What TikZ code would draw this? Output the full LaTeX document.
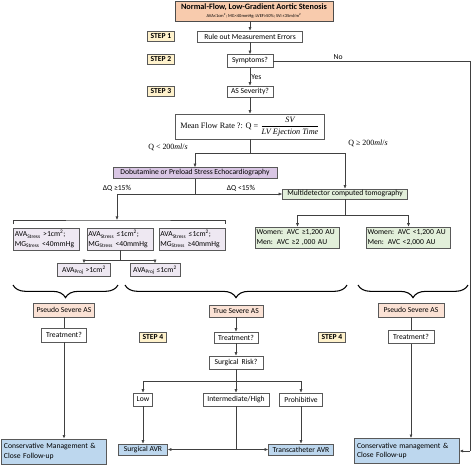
\documentclass[tikz,border=0pt]{standalone}
\usepackage{amsmath}
\usepackage{fontspec}
\usepackage{tikz}
\usetikzlibrary{arrows.meta,positioning,decorations.pathreplacing}
\newfontfamily\calibri{Carlito}
\newfontfamily\libserif{Liberation Serif}
\definecolor{peach}{HTML}{F8CBAD}
\definecolor{lightpeach}{HTML}{FBE2D5}
\definecolor{stepyellow}{HTML}{FFF2CC}
\definecolor{lilac}{HTML}{D9C6E4}
\definecolor{palelilac}{HTML}{EEE8F2}
\definecolor{mint}{HTML}{E2EFDA}
\definecolor{skyblue}{HTML}{BDD7EE}
\begin{document}
\begin{tikzpicture}[x=0.03cm, y=-0.03cm,
  line/.style={draw=black!75, line width=0.5pt},
  arrow/.style={line, -{Latex[length=3pt,width=2.6pt]}},
  box/.style={draw=black!65, fill=white, line width=0.5pt, inner sep=1pt, align=center, font=\calibri\fontsize{6.5}{8}\selectfont},
  stepbox/.style={box, fill=stepyellow, font=\calibri\bfseries\fontsize{6.5}{8}\selectfont, minimum width=0.81cm, minimum height=0.3cm},
  avabox/.style={box, fill=palelilac, align=left, text width=1.9cm, minimum height=0.66cm},
  greenbox/.style={box, fill=mint, align=left, text width=2.45cm, minimum height=0.63cm},
  bluebox/.style={box, fill=skyblue, align=left, text width=3.0cm, minimum height=0.76cm, inner sep=2pt},
  lbl/.style={inner sep=1pt, font=\calibri\fontsize{6.5}{8}\selectfont},
  qlbl/.style={inner sep=1pt, font=\libserif\fontsize{6.8}{8}\selectfont},
  brace/.style={draw=black, line width=0.9pt, decorate, decoration={brace, mirror, amplitude=0.38cm}}
]
\useasboundingbox (0,0) rectangle (474,465);
% top of the chart
\node[box, fill=peach, draw=black!70, minimum width=4.74cm, minimum height=0.6cm, inner sep=0.5pt] (title) at (254,11)
  {\textbf{\fontsize{7}{8}\selectfont Normal-Flow, Low-Gradient Aortic Stenosis}\\[-1pt]
   {\fontsize{3.8}{4.5}\selectfont AVA≤1cm\textsuperscript{2}; MG<40mmHg; LVEF≥50\%; SVi ≤35ml/m\textsuperscript{2}}};
\node[stepbox] (s1) at (161,36) {STEP 1};
\node[box, minimum width=3.15cm, minimum height=0.33cm] (rule) at (250,36.5) {Rule out Measurement Errors};
\node[stepbox] (s2) at (161,59) {STEP 2};
\node[box, minimum width=1.38cm, minimum height=0.39cm] (sym) at (250,61) {Symptoms?};
\node[stepbox] (s3) at (161,91) {STEP 3};
\node[box, minimum width=1.38cm, minimum height=0.33cm] (sev) at (250,91.5) {AS Severity?};
\node[box, font=\libserif\fontsize{7}{8}\selectfont, minimum width=4.47cm, minimum height=0.75cm] (mfr) at (250,126.5)
  {Mean Flow Rate ?: Q = $\dfrac{\text{\itshape SV}}{\text{\itshape LV Ejection Time}}$};
\draw[arrow] (title.south -| rule) -- (rule);
\draw[arrow] (rule) -- (sym);
\draw[arrow] (sym) -- node[lbl, right] (yes) {Yes} (sev);
\draw[arrow] (sev) -- (mfr);
% flow rate split
\node[qlbl] (qlo) at (168,147) {Q < 200\textit{ml}/\textit{s}};
\node[qlbl] (qhi) at (368,143) {Q ≥ 200\textit{ml}/\textit{s}};
\node[box, fill=lilac, minimum width=4.92cm, minimum height=0.33cm] (dob) at (195,173) {Dobutamine or Preload Stress Echocardiography};
\node[box, fill=mint, minimum width=3.75cm, minimum height=0.3cm] (mdct) at (345,194) {Multidetector computed tomography};
\coordinate (q) at (250,153);
\draw[line] (mfr) -- (q);
\draw[arrow] (q) -| (dob);
\draw[arrow] (q) -| (mdct);
\node[lbl] (dq1) at (117,188) {ΔQ ≥15\%};
\node[lbl] (dq2) at (241,188) {ΔQ <15\%};
\coordinate (d) at (195,194);
\coordinate (dl) at (117,194);
\coordinate (bk) at (117,220);
\draw[line] (dob) -- (d) -- (dl);
\draw[arrow] (d) -- (mdct);
\draw[arrow] (dl) -- (bk);
\draw[line] (13,224) |- (bk) -| (225,224);
% stress echo results
\node[avabox] (v1) at (46.5,239) {AVA\textsubscript{Stress} >1cm\textsuperscript{2};\\MG\textsubscript{Stress} <40mmHg};
\node[avabox] (v2) at (120,239) {AVA\textsubscript{Stress} ≤1cm\textsuperscript{2};\\MG\textsubscript{Stress} <40mmHg};
\node[avabox] (v3) at (192,239) {AVA\textsubscript{Stress} ≤1cm\textsuperscript{2};\\MG\textsubscript{Stress} ≥40mmHg};
\node[box, fill=palelilac, minimum width=1.59cm, minimum height=0.39cm] (p1) at (84,270) {AVA\textsubscript{Proj} >1cm\textsuperscript{2}};
\node[box, fill=palelilac, minimum width=1.5cm, minimum height=0.39cm] (p2) at (155,270) {AVA\textsubscript{Proj} ≤1cm\textsuperscript{2}};
\coordinate (v) at (120,260);
\draw[line] (v2) -- (v);
\draw[arrow] (v) -| (p1);
\draw[arrow] (v) -| (p2);
% calcium score results
\node[greenbox] (g1) at (297.5,237.5) {Women: AVC ≥1,200 AU\\Men: AVC ≥2 ,000 AU};
\node[greenbox] (g2) at (408.5,237.5) {Women: AVC <1,200 AU\\Men: AVC <2,000 AU};
\coordinate (m) at (345,215);
\draw[line] (mdct) -- (m);
\draw[arrow] (m) -| (g1);
\draw[arrow] (m) -| (g2);
% braces
\draw[brace] (13,285) -- (118,285);
\draw[brace] (125,285) -- (347,285);
\draw[brace] (358,285) -- (468,285);
% lower part
\node[box, fill=lightpeach, minimum width=1.83cm, minimum height=0.42cm] (ps1) at (64,310) {Pseudo Severe AS};
\node[box, minimum width=1.35cm, minimum height=0.42cm] (tr1) at (64,335) {Treatment?};
\node[box, fill=lightpeach, minimum width=1.62cm, minimum height=0.36cm] (ts) at (236,311) {True Severe AS};
\node[box, minimum width=1.32cm, minimum height=0.33cm] (tr2) at (236,337.5) {Treatment?};
\node[box, minimum width=1.62cm, minimum height=0.39cm] (sr) at (236,362.5) {Surgical\, Risk?};
\node[box, fill=lightpeach, minimum width=1.98cm, minimum height=0.42cm] (ps2) at (411,310) {Pseudo Severe AS};
\node[box, minimum width=1.38cm, minimum height=0.39cm] (tr3) at (411,337) {Treatment?};
\node[stepbox] (s4a) at (153,337) {STEP 4};
\node[stepbox] (s4b) at (332,337) {STEP 4};
\node[box, minimum width=0.57cm, minimum height=0.39cm] (low) at (143,399.5) {Low};
\node[box, minimum width=1.98cm, minimum height=0.39cm] (ih) at (236,399.5) {Intermediate/High};
\node[box, minimum width=1.29cm, minimum height=0.39cm] (pro) at (301,399.5) {Prohibitive};
\node[box, fill=skyblue, minimum width=1.47cm, minimum height=0.33cm] (savr) at (143,449.5) {Surgical AVR};
\node[box, fill=skyblue, minimum width=1.95cm, minimum height=0.33cm] (tavr) at (301,449.5) {Transcatheter AVR};
\node[bluebox] (cm1) at (54,451.5) {Conservative Management \&\\Close Follow-up};
\node[bluebox] (cm2) at (407,451) {Conservative management \&\\Close Follow-up};
\draw[line] (ps1) -- (tr1);
\draw[arrow] (tr1) -- (tr1 |- cm1.north);
\draw[arrow] (ts) -- (tr2);
\draw[arrow] (tr2) -- (sr);
\coordinate (r) at (236,381);
\draw[line] (sr) -- (r);
\draw[arrow] (r) -| (low);
\draw[arrow] (r) -- (ih);
\draw[arrow] (r) -| (pro);
\draw[arrow] (low) -- (savr);
\draw[arrow] (pro) -- (tavr);
\coordinate (i) at (236,449.5);
\draw[line] (ih) -- (i);
\draw[arrow] (i) -- (savr);
\draw[arrow] (i) -- (tavr);
\draw[line] (ps2) -- (tr3);
\draw[arrow] (tr3) -- (tr3 |- cm2.north);
% no symptoms
\coordinate (nr) at (470,61);
\coordinate (nb) at (470,451);
\draw[line] (sym) -- node[lbl, above, pos=0.33] (no) {No} (nr) -- (nb);
\draw[arrow] (nb) -- (cm2);
\end{tikzpicture}
\end{document}
